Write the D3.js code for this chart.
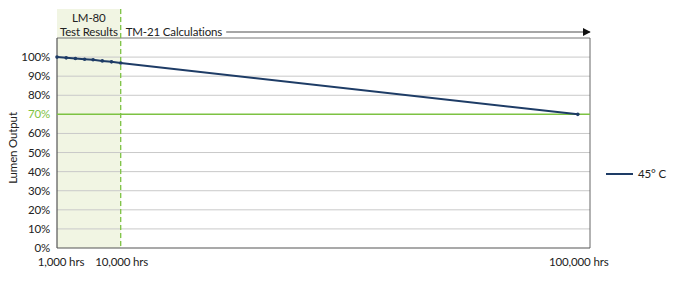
<!DOCTYPE html>
<html>
<head>
<meta charset="utf-8">
<script src="https://cdn.jsdelivr.net/npm/d3@7"></script>
<style>
  body { margin: 0; background: #fff; }
  svg text { font-family: Lato, sans-serif; font-size: 11.5px; fill: #222; letter-spacing: -0.15px; }
</style>
</head>
<body>
<svg id="chart" width="679" height="288"></svg>
<script>
// LM-80 test readings, then the TM-21 projection end point
let hours = [1000, 2300, 3600, 4900, 6100, 7400, 8700, 10000, 100000];
let output = [100, 99.6, 99.3, 98.9, 98.6, 98.0, 97.5, 96.9, 70];
let yTicks = [0, 10, 20, 30, 40, 50, 60, 70, 80, 90, 100];
let xTicks = [1000, 10000, 100000];
let xTickLabels = ["1,000 hrs", "10,000 hrs", "100,000 hrs"];
let seriesName = "45° C";
let threshold = 70; // L70

let navy = "#1e3c66", green = "#7dc242";
let svg = d3.select("#chart");
let plotLeft = 57, plotRight = 590, plotTop = 38, plotBottom = 248;

// piecewise scale: the test period gets stretched out
let x = d3.scaleLinear().domain([1000, 10000, 102400]).range([plotLeft, 120.7, plotRight]);
let y = d3.scaleLinear().domain([0, 110]).range([plotBottom, plotTop]);

// shaded LM-80 band
svg.append("rect")
  .attr("x", x(1000)).attr("y", 9)
  .attr("width", x(10000) - x(1000)).attr("height", plotBottom - 9)
  .style("fill", "#f1f5e3");

// grid
svg.selectAll(".grid").data(yTicks.filter(d => d > 0 && d != threshold)).enter()
  .append("line")
  .attr("x1", plotLeft).attr("x2", plotRight)
  .attr("y1", d => y(d)).attr("y2", d => y(d))
  .style("stroke", "#c9c9c9").style("stroke-width", 1);

// frame
svg.append("line").attr("x1", plotLeft).attr("x2", plotRight).attr("y1", plotTop).attr("y2", plotTop)
  .style("stroke", "#777").style("stroke-width", 1);
svg.append("line").attr("x1", plotRight).attr("x2", plotRight).attr("y1", plotTop).attr("y2", plotBottom)
  .style("stroke", "#666").style("stroke-width", 1);
svg.append("line").attr("x1", plotLeft).attr("x2", plotLeft).attr("y1", plotTop).attr("y2", plotBottom)
  .style("stroke", "#555").style("stroke-width", 1.2);
svg.append("line").attr("x1", plotLeft).attr("x2", plotRight).attr("y1", plotBottom).attr("y2", plotBottom)
  .style("stroke", "#555").style("stroke-width", 1.2);

// L70 line
svg.append("line").attr("x1", plotLeft).attr("x2", plotRight)
  .attr("y1", y(threshold)).attr("y2", y(threshold))
  .style("stroke", green).style("stroke-width", 1.5);

// dashed divider at end of testing
svg.append("line").attr("x1", x(10000)).attr("x2", x(10000))
  .attr("y1", 9).attr("y2", plotBottom)
  .style("stroke", green).style("stroke-width", 1.3)
  .style("stroke-dasharray", "5,3");

// y tick labels
svg.selectAll(".ylab").data(yTicks).enter()
  .append("text")
  .attr("x", 50).attr("y", d => y(d) + 4)
  .attr("text-anchor", "end")
  .style("fill", d => d == threshold ? green : "#222")
  .text(d => d + "%");

// x tick labels
svg.selectAll(".xlab").data(xTicks).enter()
  .append("text")
  .attr("x", (d, i) => x(d) + (i == 0 ? 4 : 1)).attr("y", 266)
  .attr("text-anchor", "middle")
  .text((d, i) => xTickLabels[i]);

// axis title
svg.append("text")
  .attr("transform", "translate(17,148) rotate(-90)")
  .attr("text-anchor", "middle")
  .text("Lumen Output");

// headings
let mid = (x(1000) + x(10000)) / 2;
svg.append("text").attr("x", mid).attr("y", 22).attr("text-anchor", "middle").text("LM-80");
svg.append("text").attr("x", mid).attr("y", 35.5).attr("text-anchor", "middle").text("Test Results");
let tm = svg.append("text").attr("x", x(10000) + 5).attr("y", 35.5).text("TM-21 Calculations");
let tmEnd = x(10000) + 5 + tm.node().getComputedTextLength() + 4;

svg.append("defs").append("marker")
  .attr("id", "arrow").attr("viewBox", "0 0 10 10")
  .attr("refX", 9).attr("refY", 5)
  .attr("markerWidth", 6).attr("markerHeight", 6)
  .attr("orient", "auto")
  .append("path").attr("d", "M0,0L10,5L0,10z").style("fill", "#111");
svg.append("line").attr("x1", tmEnd).attr("x2", plotRight).attr("y1", 32).attr("y2", 32)
  .style("stroke", "#888").style("stroke-width", 1.3)
  .attr("marker-end", "url(#arrow)");

// series
let line = d3.line().x((d, i) => x(hours[i])).y(d => y(d));
svg.append("path").datum(output)
  .attr("d", line)
  .style("fill", "none").style("stroke", navy).style("stroke-width", 2);
svg.selectAll(".pt").data(output).enter()
  .append("circle")
  .attr("cx", (d, i) => x(hours[i])).attr("cy", d => y(d))
  .attr("r", 1.8).style("fill", navy);

// legend
svg.append("line").attr("x1", 606).attr("x2", 633).attr("y1", 174).attr("y2", 174)
  .style("stroke", navy).style("stroke-width", 2);
svg.append("text").attr("x", 638).attr("y", 178).text(seriesName);
</script>
</body>
</html>
